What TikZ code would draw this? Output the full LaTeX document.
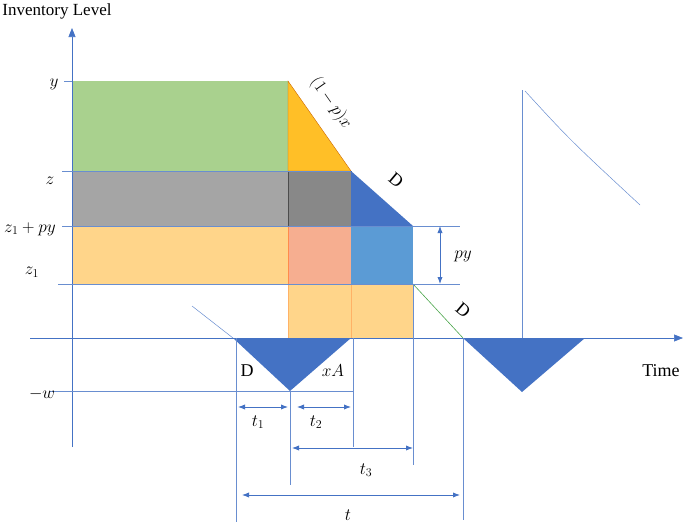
\documentclass[tikz,border=0pt]{standalone}
\usepackage{fontspec}
\setmainfont{Liberation Serif}
\usetikzlibrary{arrows.meta}
\begin{document}
\begin{tikzpicture}[x=1pt,y=-1pt,
  ax/.style={draw=lblue,line width=0.6pt},
  bl/.style={draw=lblue!80,line width=0.5pt},
  dim/.style={draw=lblue,line width=0.9pt,{Latex[length=7pt]}-{Latex[length=7pt]}},
  lab/.style={font=\fontsize{18}{20}\selectfont}]
\useasboundingbox (0,0) rectangle (685,525);
\definecolor{lblue}{HTML}{4472C4}
\definecolor{grn}{HTML}{A9D18E}
\definecolor{gry}{HTML}{A5A5A5}
\definecolor{org}{HTML}{FFD58A}
\definecolor{gold}{HTML}{FFBF27}
\definecolor{dblue}{HTML}{4472C4}
\definecolor{mblue}{HTML}{5B9BD5}
\definecolor{pink}{HTML}{F6AE90}
\definecolor{dgry}{HTML}{888888}
% fills
\fill[grn] (72,81) rectangle (288,171);
\fill[gry,draw=gray!80!black] (72,171) rectangle (288,226);
\fill[org] (72,226) rectangle (288,284);
\fill[gold,draw=orange!80!black] (288,81) -- (351,171) -- (288,171) -- cycle;
\fill[dgry,draw=gray!60!black] (288,171) rectangle (351,226);
\fill[dblue] (351,171) -- (413,226) -- (351,226) -- cycle;
\fill[pink,draw=orange!70!red!70] (288,226) rectangle (351,284);
\fill[mblue] (351,226) rectangle (413,284);
\fill[org,draw=orange!60] (288,284) rectangle (351,338);
\fill[org,draw=orange!60] (351,284) rectangle (413,338);
\draw[green!50!black!70,line width=0.6pt] (413,284) -- (413,338) -- (463,338);
\draw[green!50!black!70,line width=0.6pt] (413,284) -- (463,338);
\fill[dblue] (233,338) -- (351,338) -- (290,391) -- cycle;
\fill[dblue] (463,338) -- (585,338) -- (522,392) -- cycle;
% axes
\coordinate (yb) at (72,447); \coordinate (yt) at (72,28);
\draw[ax,-{Triangle[length=9pt,width=7pt]}] (yb) -- (yt);
\coordinate (xl) at (30,338); \coordinate (xr) at (683,338);
\draw[ax,-{Triangle[length=9pt,width=7pt]}] (xl) -- (xr);
% guide lines
\draw[bl] (64,81) -- (72,81);
\draw[bl] (62,171) -- (351,171);
\draw[bl] (62,226) -- (460,226);
\draw[bl] (58,284) -- (460,284);
\draw[bl] (50,391) -- (353,391);
\draw[bl] (236,338) -- (236,522);
\draw[bl] (290,391) -- (290,485);
\draw[bl] (353,338) -- (353,447);
\draw[bl] (413,284) -- (413,465);
\draw[bl] (463,338) -- (463,520);
\draw[bl] (192,306) -- (233,338);
\draw[bl] (522,338) -- (522,90);
\draw[bl] (525,91) .. controls (570,140) .. (640,205);
% dimension arrows
\draw[dim] (440,226) -- (440,284);
\draw[dim] (238,407) -- (288,407);
\draw[dim] (297,407) -- (351,407);
\draw[dim] (292,448) -- (413,448);
\draw[dim] (242,495) -- (460,495);
% labels
\node[font=\fontsize{17}{19}\selectfont] (il) at (57,11) {Inventory Level};
\node[lab] (ly) at (54,84) {$y$};
\node[lab] (lz) at (50,181) {$z$};
\node[lab] (lzp) at (30,229) {$z_1+py$};
\node[lab] (lz1) at (32,272) {$z_1$};
\node[lab] (lw) at (42,394) {$-w$};
\node[lab] (lpy) at (463,256) {$py$};
\node[lab,rotate=-55] (lpx) at (331,103) {$(1-p)x$};
\node[lab,rotate=-40] (ld1) at (396,180) {D};
\node[lab,rotate=-40] (ld2) at (463,310) {D};
\node[lab] (ld3) at (247,371) {D};
\node[lab] (lxa) at (333,371) {$xA$};
\node[lab] (lt1) at (258,422) {$t_1$};
\node[lab] (lt2) at (316,422) {$t_2$};
\node[lab] (lt3) at (366,470) {$t_3$};
\node[lab] (lt) at (348,515) {$t$};
\node[lab] (ltime) at (661,371) {Time};
\end{tikzpicture}
\end{document}
